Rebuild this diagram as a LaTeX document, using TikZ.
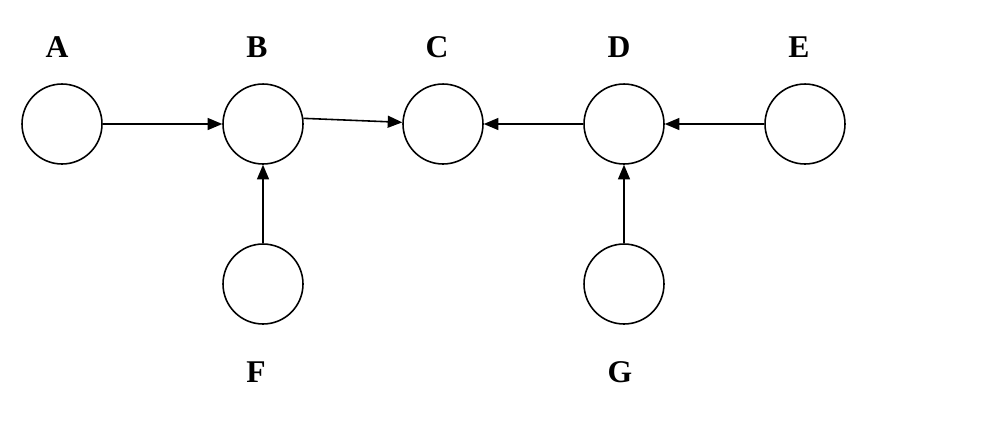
\documentclass[tikz,border=0pt]{standalone}
\usepackage{fontspec}
\setmainfont{Liberation Serif}
\usetikzlibrary{arrows}
\begin{document}
\begin{tikzpicture}
   [x=0.02cm,y=-0.02cm,
      vertex/.style={shape=circle,draw=black,line width=0.9pt,minimum size=1.6cm,inner sep=0pt},
lbl/.style={font=\bfseries\fontsize{18}{20}\selectfont,inner sep=0pt},
pedge/.style={line width=0.9pt,>=triangle 45}]
\useasboundingbox (0,0) rectangle (1000,434);
%%
\node (a) [vertex] at (62,124) {};
\node (b) [vertex] at (263,124) {};
\node (c) [vertex] at (443,124) {};
\node (d) [vertex] at (624,124) {};
\node (e) [vertex] at (805,124) {};
\node (f) [vertex] at (263,284) {};
\node (g) [vertex] at (624,284) {};
%%
\node (la) [lbl] at (57,47) {A};
\node (lb) [lbl] at (257,47) {B};
\node (lc) [lbl] at (437,47) {C};
\node (ld) [lbl] at (619,47) {D};
\node (le) [lbl] at (799,47) {E};
\node (lf) [lbl] at (256,372) {F};
\node (lg) [lbl] at (620,372) {G};
%%
\draw[pedge,->] (a) -- (b);
\draw[pedge,->] (b.8) -- (c);
\draw[pedge,->] (d) -- (c);
\draw[pedge,->] (e) -- (d);
\draw[pedge,->] (f) -- (b);
\draw[pedge,->] (g) -- (d);
\end{tikzpicture}
\end{document}
